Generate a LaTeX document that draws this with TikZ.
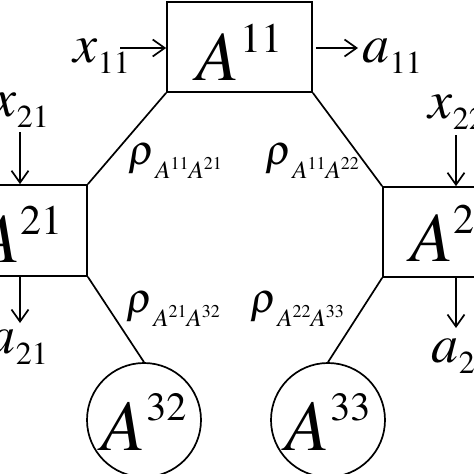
\documentclass[tikz,border=0pt]{standalone}
\usepackage{mathptmx}
\usetikzlibrary{arrows.meta}
\newcommand\fsz[1]{\fontsize{#1}{#1}\selectfont}
\newcommand\Lsub[2]{{\fsz{54}$#1$}\raisebox{-11pt}{\fsz{32}$#2$}}
\newcommand\Abox[1]{{\fsz{70}$A$}\kern1pt\raisebox{28pt}{\fsz{42}$#1$}}
\newcommand\Acirc[1]{{\fsz{72}$A$}\kern1pt\raisebox{30pt}{\fsz{40}$#1$}}
\newcommand\RhoSub[2]{{\fsz{42}$\rho$}\raisebox{-14pt}{\fsz{25}$A$\raisebox{9pt}{\fsz{18}$#1$}$A$\raisebox{9pt}{\fsz{18}$#2$}}}
\begin{document}
\begin{tikzpicture}[x=1pt,y=-1pt,line width=1.7pt,
  boxst/.style={draw,rectangle,inner sep=0pt,minimum height=90pt,text depth=0pt},
  circst/.style={draw,circle,inner sep=0pt,minimum size=114pt,text height=60pt,text depth=0pt},
  arr/.style={-{Straight Barb[length=12pt,width=17pt]}},
  lbl/.style={anchor=base west,inner sep=0pt}]
\useasboundingbox (0,0) rectangle (474,474);
\clip (0,0) rectangle (474,474);
% boxes and circles
\node[boxst,minimum width=145pt,text height=66pt] (A11) at (239.5,47) {\Abox{11}};
\node[boxst,minimum width=134pt,minimum height=91pt,text height=64pt] (A21) at (20,230.5) {\Abox{21}};
\node[boxst,minimum width=140pt,text height=59pt] (A22) at (453,232) {\Abox{22}};
\node[circst] (A32) at (144,420) {\Acirc{32}};
\node[circst] (A33) at (328,420) {\Acirc{33}};
% input / output labels
\node[lbl] (x11) at (73,62) {\Lsub{x}{11}};
\node[lbl] (a11) at (362,62) {\Lsub{a}{11}};
\node[lbl] (x21) at (-8,116) {\Lsub{x}{21}};
\node[lbl] (x22) at (428,118) {\Lsub{x}{22}};
\node[lbl] (a21) at (-12,353) {\Lsub{a}{21}};
\node[lbl] (a22) at (431,362) {\Lsub{a}{22}};
% correlation labels
\node[lbl] (r1) at (128,164) {\RhoSub{11}{21}};
\node[lbl] (r2) at (265,164) {\RhoSub{11}{22}};
\node[lbl] (r3) at (126,312) {\RhoSub{21}{32}};
\node[lbl] (r4) at (250,312) {\RhoSub{22}{33}};
% arrows
\coordinate (x11e) at (120,48);
\coordinate (a11e) at (358,48);
\coordinate (x21e) at (20,132);
\coordinate (a21e) at (20,323);
\coordinate (x22e) at (456,135);
\coordinate (a22e) at (456,328);
\draw[arr] (x11e) -- (x11e -| A11.west);
\draw[arr,shorten <=3pt] (a11e -| A11.east) -- (a11e);
\draw[arr] (x21e) -- (x21e |- A21.north);
\draw[arr] (a21e |- A21.south) -- (a21e);
\draw[arr] (x22e) -- (x22e |- A22.north);
\draw[arr] (a22e |- A22.south) -- (a22e);
% links
\draw (A11.south west) -- (A21.north east);
\draw (A11.south east) -- (A22.north west);
\draw (A21.south east) -- (A32.north);
\draw (A22.south west) -- (A33.north);
\end{tikzpicture}
\end{document}
